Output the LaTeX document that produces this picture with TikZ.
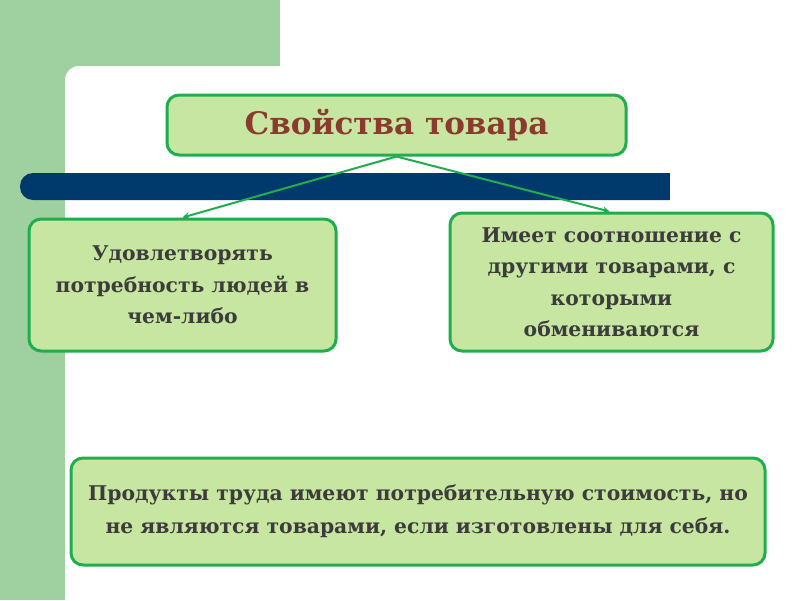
\documentclass[tikz,border=0pt]{standalone}
\usepackage{fontspec}
\setmainfont{DejaVu Serif}
\definecolor{bggreen}{HTML}{9FD0A0}
\definecolor{boxfill}{HTML}{C6E6A2}
\definecolor{boxline}{HTML}{1EAE4E}
\definecolor{navy}{HTML}{003A6C}
\definecolor{titlec}{HTML}{8B3A2E}
\definecolor{txt}{HTML}{3C3C3C}
\begin{document}
\begin{tikzpicture}[x=1pt,y=-1pt,
  gbox/.style={draw=boxline,line width=3pt,fill=boxfill,rounded corners=12pt,align=center,font=\bfseries\fontsize{20.3}{31.5}\selectfont,text=txt},
  arr/.style={draw=boxline,line width=2pt,-stealth}]
\useasboundingbox (0,0) rectangle (800,600);
\fill[white] (0,0) rectangle (800,600);
\fill[bggreen] (0,0) rectangle (280,66);
\fill[bggreen] (0,0) rectangle (65,600);
\fill[bggreen] (65,66) rectangle (80,80);
\fill[white,rounded corners=14pt] (65,66) rectangle (120,120);
\fill[navy,rounded corners=13pt] (20,173) rectangle (690,200);
\fill[white] (670,170) rectangle (800,203);
\node[gbox,minimum width=459pt,minimum height=60pt,text=titlec,font=\bfseries\fontsize{31}{36}\selectfont] (t) at (396.5,125) {Свойства товара};
\node[gbox,minimum width=307pt,minimum height=132pt] (l) at (182.5,285) {Удовлетворять\\потребность людей в\\чем-либо};
\node[gbox,minimum width=323pt,minimum height=138pt] (r) at (611.5,282) {Имеет соотношение с\\другими товарами, с\\которыми\\обмениваются};
\node[gbox,minimum width=694pt,minimum height=107pt,font=\bfseries\fontsize{20.3}{33}\selectfont] (b) at (418,511.5) {Продукты труда имеют потребительную стоимость, но\\не являются товарами, если изготовлены для себя.};
\draw[arr] (t.south) -- (l.north);
\draw[arr] (t.south) -- ([xshift=-2pt]r.north);
\end{tikzpicture}
\end{document}
